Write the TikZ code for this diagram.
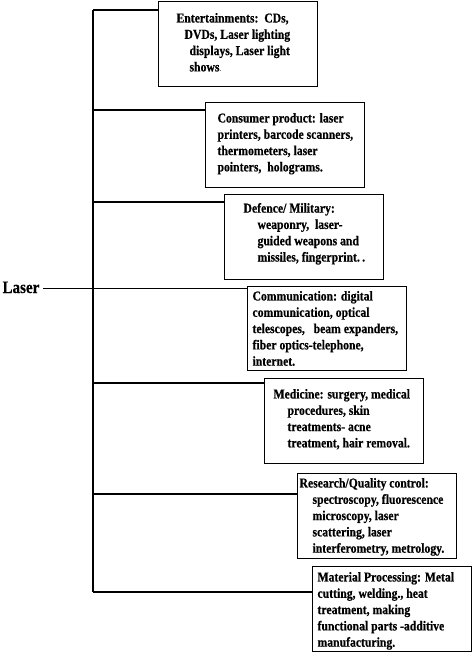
\documentclass[tikz,border=0pt]{standalone}
\usepackage{fontspec}
\setmainfont[FakeStretch=0.86,BoldFeatures={FakeBold=0.5}]{Liberation Serif}
\begin{document}
\begin{tikzpicture}[x=1pt,y=-1pt,line width=1.1pt,
  box/.style={draw,line width=1.1pt,anchor=north west,inner sep=0pt,minimum width=#1},
  box/.default=159pt,
  txt/.style={anchor=north west,inner sep=0pt,align=left,font=\fontsize{13.6pt}{16.3pt}\selectfont\bfseries},
  conn/.style={line width=1.1pt}]
\useasboundingbox (0,0) rectangle (472,653);
% boxes
\node[box,minimum height=85pt] (b1) at (158,0.6) {};
\node[box,minimum height=85pt] (b2) at (205,102) {};
\node[box,minimum height=85pt] (b3) at (224,194) {};
\node[box,minimum height=84pt] (b4) at (247,286) {};
\node[box,minimum height=85pt] (b5) at (264,378) {};
\node[box,minimum height=85pt] (b6) at (297,473) {};
\node[box,minimum height=85pt,minimum width=158.5pt] (b7) at (312,566) {};
% texts
\node[txt] (t1) at (176,12.5) {Entertainments:\ \ CDs,\\\hspace*{8pt}DVDs, Laser lighting\\\hspace*{13pt}displays, Laser light\\\hspace*{13pt}shows{\mdseries\fontsize{9pt}{9pt}\selectfont.}};
\node[txt] (t2) at (217,112.5) {Consumer product: laser\\printers, barcode scanners,\\thermometers, laser\\pointers,\ \ holograms.};
\node[txt] (t3) at (243,202.5) {Defence/ Military:\\\hspace*{14pt}weaponry,\ \ laser-\\\hspace*{14pt}guided weapons and\\\hspace*{14pt}missiles, fingerprint.\,.};
\node[txt] (t4) at (252,290.5) {Communication: digital\\communication, optical\\telescopes,\ \ \ beam expanders,\\fiber optics-telephone,\\internet.};
\node[txt] (t5) at (273,388.5) {Medicine: surgery, medical\\\hspace*{14pt}procedures, skin\\\hspace*{14pt}treatments- acne\\\hspace*{14pt}treatment, hair removal.};
\node[txt] (t6) at (299,477.5) {Research/Quality control:\\\hspace*{13pt}spectroscopy, fluorescence\\\hspace*{13pt}microscopy, laser\\\hspace*{13pt}scattering, laser\\\hspace*{13pt}interferometry, metrology.};
\node[txt] (t7) at (317,571.5) {Material Processing: Metal\\cutting, welding., heat\\treatment, making\\functional parts -additive\\manufacturing.};
% root
\node[anchor=base west,inner sep=0pt,font=\fontsize{17.5pt}{17.5pt}\selectfont\bfseries] (laser) at (2,293) {Laser};
% trunk
\coordinate (c1) at (93,10);
\coordinate (c2) at (93,110);
\coordinate (c3) at (93,202);
\coordinate (c4) at (43,288);
\coordinate (c5) at (93,383);
\coordinate (c6) at (93,494);
\coordinate (c7) at (93,592);
\draw[conn] (c1) -- (c7);
\draw[conn] (c1) -- (c1 -| b1.west);
\draw[conn] (c2) -- (c2 -| b2.west);
\draw[conn] (c3) -- (c3 -| b3.west);
\draw[line width=0.8pt] (c4) -- (c4 -| b4.west);
\draw[conn] (c5) -- (c5 -| b5.west);
\draw[conn] (c6) -- (c6 -| b6.west);
\draw[conn] (c7) -- (c7 -| b7.west);
\end{tikzpicture}
\end{document}
